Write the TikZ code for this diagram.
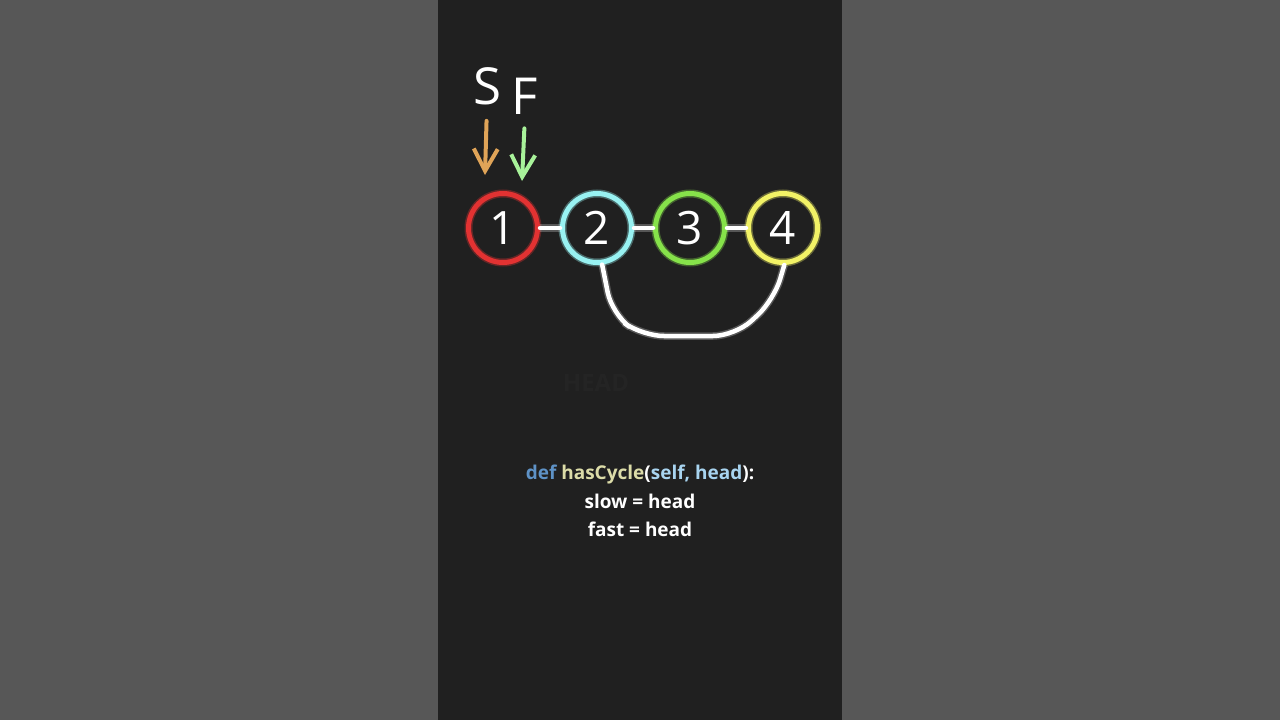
\documentclass[tikz,border=0pt]{standalone}
\usepackage{fontspec}
\setmainfont{Open Sans}
\usetikzlibrary{arrows.meta}

\definecolor{sidegray}{HTML}{575757}
\definecolor{panel}{HTML}{202020}
\definecolor{ringred}{HTML}{E23232}
\definecolor{ringcyan}{HTML}{98F2F2}
\definecolor{ringgreen}{HTML}{86E24A}
\definecolor{ringyellow}{HTML}{F2F266}
\definecolor{slowcol}{HTML}{E0A458}
\definecolor{fastcol}{HTML}{A8F29A}
\definecolor{kwcol}{HTML}{5E92C6}
\definecolor{fncol}{HTML}{DCDCA8}
\definecolor{argcol}{HTML}{A8D4F0}

\tikzset{
  ring/.style={circle, draw=#1, line width=5pt, minimum size=69pt, inner sep=0pt,
    text=white, font=\fontsize{46}{46}\selectfont,
    preaction={draw=#1, line width=8pt, opacity=0.35}},
  link/.style={draw=white, line width=4.5pt, line cap=round,
    preaction={draw=white, line width=7.5pt, opacity=0.25}},
  letter/.style={text=white, inner sep=0pt, font=\fontsize{51}{51}\selectfont},
  pointer/.style={draw=#1, line width=4pt, line cap=round,
    -{Straight Barb[length=22pt, width=24pt, line width=4pt]}},
  code/.style={text=white, font=\bfseries\fontsize{19}{19}\selectfont}
}

\begin{document}
\begin{tikzpicture}[x=1pt, y=-1pt]
  % 背景
  \useasboundingbox (0,0) rectangle (1280,720);
  \fill[sidegray] (0,0) rectangle (1280,720);
  \fill[panel] (438,0) rectangle (842,720);

  % 链表节点
  \node[ring=ringred] (n1) at (503,228) {1};
  \node[ring=ringcyan] (n2) at (597,228) {2};
  \node[ring=ringgreen] (n3) at (690,228) {3};
  \node[ring=ringyellow] (n4) at (783,228) {4};

  % 连线
  \draw[link] (n1.east) -- (n2.west);
  \draw[link] (n2.east) -- (n3.west);
  \draw[link] (n3.east) -- (n4.west);

  % 环
  \draw[link, rounded corners=22pt] (n2.-82) -- (612,314) -- (642,336)
    -- (735,336) -- (774,300) -- (n4.-88);

  % 快慢指针
  \node[letter] (s) at (487,86) {S};
  \node[letter] (f) at (525,96) {F};
  \coordinate (stip) at (485,175);
  \coordinate (ftip) at (522,181);
  \draw[pointer=slowcol, shorten <=16pt] (s.south) -- (stip);
  \draw[pointer=fastcol, shorten <=14pt] (f.south) -- (ftip);

  % 淡出的文字
  \node[text=white, opacity=0.02, font=\bfseries\fontsize{24}{24}\selectfont] (ghost) at (596,383) {HEAD};

  % 代码
  \node[code] (line1) at (640,475) {\textcolor{kwcol}{def} \textcolor{fncol}{hasCycle}(\textcolor{argcol}{self, head}):};
  \node[code] (line2) at (640,501) {slow = head};
  \node[code] (line3) at (640,529) {fast = head};
\end{tikzpicture}
\end{document}
